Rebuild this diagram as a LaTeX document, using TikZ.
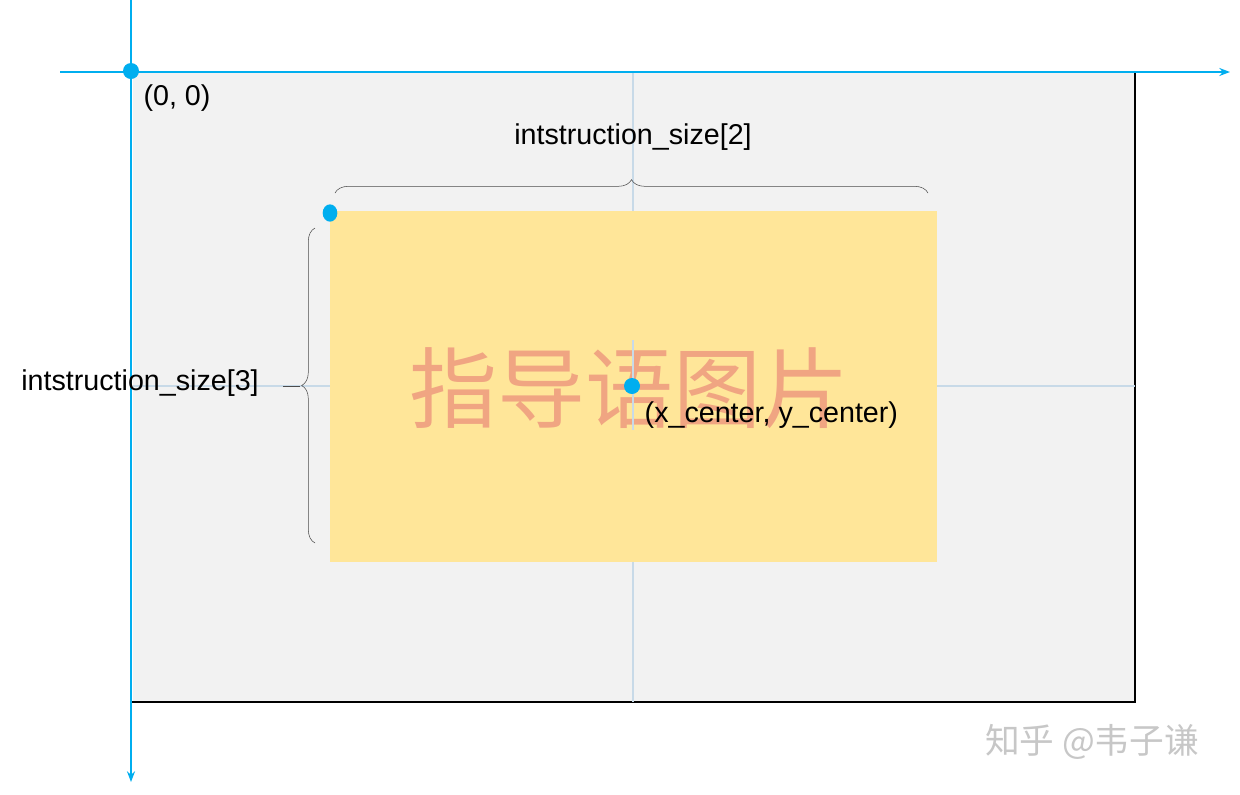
\documentclass[tikz,border=0pt]{standalone}
\usepackage{fontspec}
\setmainfont{Liberation Sans}
\newfontfamily\cjk{Noto Sans CJK SC}
\usetikzlibrary{decorations.pathreplacing,arrows.meta,shapes.geometric}
\definecolor{axblue}{RGB}{0,174,239}
\definecolor{gridc}{RGB}{200,218,232}
\definecolor{bgg}{RGB}{242,242,242}
\definecolor{yel}{RGB}{255,230,153}
\definecolor{cred}{RGB}{240,165,130}
\tikzset{lbl/.style={font=\fontsize{21.5}{25}\selectfont},
 dot/.style={fill=axblue,draw=none,circle,minimum size=12pt,inner sep=0pt},
 brc/.style={draw=black!70,thin,decorate}}
\begin{document}
\begin{tikzpicture}[x=0.75pt,y=-0.75pt]
\useasboundingbox (0,0) rectangle (1240,794);
\fill[white] (0,0) rectangle (1240,794);
\fill[bgg] (133,72) rectangle (1135,702);
\draw[black,line width=1.5pt] (1135,72) -- (1135,702) -- (131,702);
\draw[gridc,line width=0.8pt] (633,72) -- (633,702);
\draw[gridc,line width=0.8pt] (133,386) -- (1135,386);
\fill[yel] (330,211) rectangle (937,562);
\node[font=\cjk\fontsize{66}{72}\selectfont,text=cred] (title) at (629,388) {指导语图片};
\draw[gridc,line width=0.8pt] (633,340) -- (633,430);
\coordinate (xs) at (60,72); \coordinate (xe) at (1230,72);
\coordinate (ys) at (131,0); \coordinate (ye) at (131,782);
\draw[axblue,line width=2pt,-{Stealth[length=8pt]}] (xs) -- (xe);
\draw[axblue,line width=2pt,-{Stealth[length=8pt]}] (ys) -- (ye);
\node[dot] (o) at (131,71) {};
\node[lbl] (ol) at (177,98) {(0, 0)};
\node[dot,ellipse,minimum width=11pt,minimum height=13pt] (tl) at (330,213) {};
\node[dot] (c) at (632,386) {};
\node[lbl,anchor=west] (cl) at (640,415) {(x\_center, y\_center)};
\coordinate (b1) at (335,193); \coordinate (b2) at (928,193);
\draw[brc,decoration={brace,amplitude=10pt}] (b1) -- (b2);
\node[lbl] (w) at (633,137) {intstruction\_size[2]};
\coordinate (l1) at (315,543); \coordinate (l2) at (315,228);
\draw[brc,decoration={brace,amplitude=10pt}] (l1) -- (l2);
\node[lbl] (h) at (140,383) {intstruction\_size[3]};
\coordinate (ht) at (300,386);
\draw[black!70,thin] (ht) -- (283,386);
\node[font=\cjk\fontsize{26}{30}\selectfont,text=black!22] (wm) at (1092,742) {知乎 @韦子谦};
\end{tikzpicture}
\end{document}
